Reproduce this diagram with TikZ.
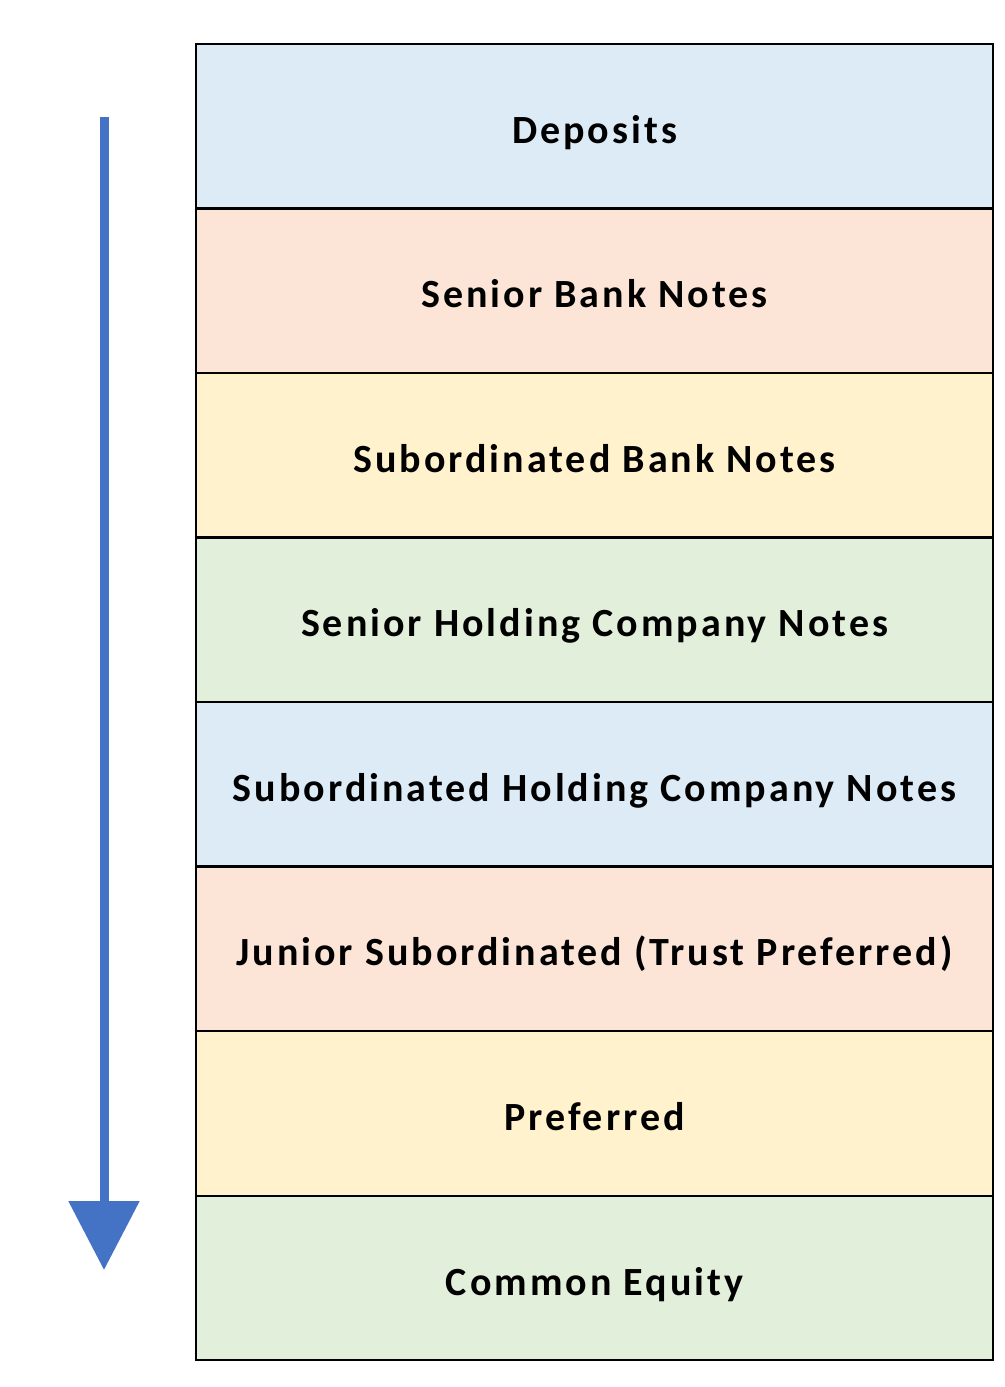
\documentclass[tikz,border=0pt]{standalone}
\usepackage{fontspec}
\setmainfont{Carlito}
\newfontfamily\tierfont[LetterSpace=7.5]{Carlito}
\usetikzlibrary{positioning,arrows.meta}

\definecolor{tierblue}{HTML}{DDEBF7}
\definecolor{tierpeach}{HTML}{FCE4D6}
\definecolor{tieryellow}{HTML}{FFF2CC}
\definecolor{tiergreen}{HTML}{E2EFDA}
\definecolor{arrowblue}{HTML}{4472C4}

\tikzset{
	tier/.style={draw, line width=1.8pt, outer sep=0pt, inner sep=0pt,
		minimum width=597.75pt, minimum height=123.4pt,
		text height=25.5pt, text depth=0pt,
		font=\tierfont\bfseries\fontsize{30}{36}\selectfont},
}

\begin{document}
\begin{tikzpicture}[x=0.75pt, y=-0.75pt, node distance=0pt]

\path [use as bounding box] (0,0) rectangle (1004,1387);

% TIERS
\node [tier, fill=tierblue, anchor=north west] (deposits) at (196,44) {Deposits};
\node [tier, fill=tierpeach, below=of deposits] (seniorbank) {Senior Bank Notes};
\node [tier, fill=tieryellow, below=of seniorbank] (subbank) {Subordinated Bank Notes};
\node [tier, fill=tiergreen, below=of subbank] (seniorhold) {Senior Holding Company Notes};
\node [tier, fill=tierblue, below=of seniorhold] (subhold) {Subordinated Holding Company Notes};
\node [tier, fill=tierpeach, below=of subhold] (juniorsub) {Junior Subordinated (Trust Preferred)};
\node [tier, fill=tieryellow, below=of juniorsub] (preferred) {Preferred};
\node [tier, fill=tiergreen, below=of preferred] (equity) {Common Equity};

% ARROW
\coordinate (arrowtop) at (104,117);
\coordinate (arrowend) at (104,1270);
\draw [arrowblue, line width=6.75pt, -{Triangle[width=51.75pt, length=51.75pt]}] (arrowtop) -- (arrowend);

\end{tikzpicture}
\end{document}
